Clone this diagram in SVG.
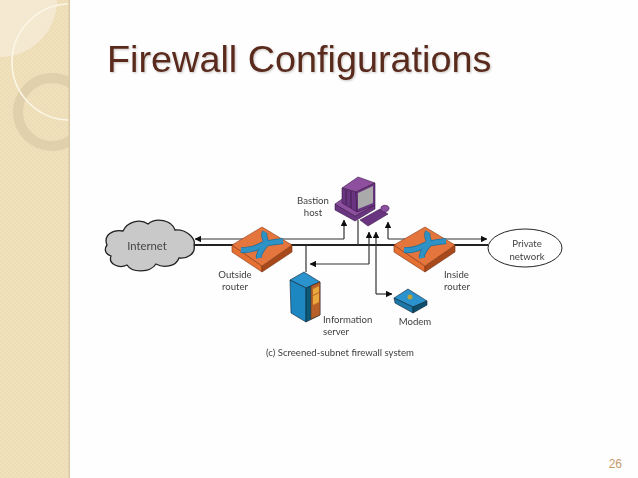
<svg xmlns="http://www.w3.org/2000/svg" width="638" height="478" viewBox="0 0 638 478">
<style>
.lb{font-family:"Lato","Open Sans","Liberation Sans",sans-serif;font-size:9.6px;fill:#3e3e3e;text-anchor:middle}
.st{text-anchor:start}
.ln{fill:none;stroke:#333;stroke-width:1.2}
.ah{fill:#111}
.rt{fill:#e4743c;stroke:#8a3a16;stroke-width:.6}
.rl{fill:#e56f30;stroke:#7a3212;stroke-width:.6}
.rr{fill:#a8481c;stroke:#7a3212;stroke-width:.6}
.xo{fill:none;stroke:#1d6f9c;stroke-width:6}
.x{fill:none;stroke:#2f93c4;stroke-width:4.6}
.p1{fill:#8e4f9e;stroke:#3a1a48;stroke-width:.6}
.p2{fill:#6b3480;stroke:#3a1a48;stroke-width:.6}
.e{stroke:#123;stroke-width:.6}
</style>
<defs>
<pattern id="dots" width="4" height="4" patternUnits="userSpaceOnUse">
<rect width="4" height="4" fill="#f0e0bc"/>
<circle cx="1" cy="1" r=".7" fill="#ead8ae"/>
<circle cx="3" cy="3" r=".7" fill="#ead8ae"/>
</pattern>
<clipPath id="side"><rect width="70" height="478"/></clipPath>
<filter id="soft" x="-5%" y="-5%" width="110%" height="110%"><feGaussianBlur stdDeviation=".35"/></filter>
<filter id="shadow" x="-5%" y="-20%" width="110%" height="150%"><feDropShadow dx="1" dy="1" stdDeviation="1" flood-color="#7a6a60" flood-opacity=".4"/></filter>
<marker id="arr" viewBox="0 0 8 8" refX="7.5" refY="4" markerWidth="6.5" markerHeight="6.5" markerUnits="userSpaceOnUse" orient="auto"><path class="ah" d="M0 0L8 4L0 8Z"/></marker>
<g id="xmark">
<path class="xo" d="M-21 5C-10 6 -4 2 0 0S12 -3 21 -4"/>
<path class="xo" d="M3 -13C0 -8 6 -4 3 0S-4 8 -3 13"/>
<path class="x" d="M-21 5C-10 6 -4 2 0 0S12 -3 21 -4"/>
<path class="x" d="M3 -13C0 -8 6 -4 3 0S-4 8 -3 13"/>
</g>
</defs>
<rect width="638" height="478" fill="#fefefe"/>
<g id="sidebar" clip-path="url(#side)">
<rect width="70" height="478" fill="url(#dots)"/>
<path d="M0 0H57A57 57 0 0 1 0 57Z" fill="#f5ebd6" opacity=".8"/>
<circle cx="52" cy="112" r="34" fill="none" stroke="#e0d1ac" stroke-width="10"/>
<circle cx="70" cy="62" r="58" fill="none" stroke="#fbf6e6" stroke-width="1.6"/>
<rect x="68.500" width="1.500" height="478" fill="#d8c8a6"/>
</g>
<text id="title" x="107" y="72" font-family="'Liberation Sans',Arial,sans-serif" font-size="37.8" fill="#5a2a1c" filter="url(#shadow)">Firewall Configurations</text>
<text id="page" x="622" y="468" font-family="'Liberation Sans',Arial,sans-serif" font-size="12" fill="#c49a6c" text-anchor="end">26</text>
<g filter="url(#soft)">
<g id="connectors">
<path class="ln" marker-end="url(#arr)" d="M344 239H195"/>
<path class="ln" marker-end="url(#arr)" d="M344 239V220"/>
<path d="M194 245H488" fill="none" stroke="#222" stroke-width="1.8"/>
<path class="ln" d="M358 245V220"/>
<path class="ln" d="M306 245V272"/>
<path class="ln" marker-end="url(#arr)" d="M369 264H310"/>
<path class="ln" marker-end="url(#arr)" d="M369 264V232"/>
<path class="ln" marker-end="url(#arr)" d="M376 294V232"/>
<path class="ln" marker-end="url(#arr)" d="M376 294H392"/>
<path class="ln" marker-end="url(#arr)" d="M388 239H487"/>
<path class="ln" marker-end="url(#arr)" d="M388 239V222"/>
</g>
<g id="internet">
<path d="M107 245C103 235 113 229 123 231C127 222 140 218 148 224C156 217 172 220 175 230C186 229 196 238 194 245C196 254 187 259 179 258C176 267 163 268 156 264C150 273 132 273 127 265C119 269 108 264 111 256C105 254 104 249 107 245Z" fill="#c9c9c9" stroke="#222" stroke-width="1.3"/>
<text x="147" y="250" font-family="Lato,'Open Sans','Liberation Sans',sans-serif" font-size="11.300" fill="#444" text-anchor="middle">Internet</text>
</g>
<g id="outside-router">
<path class="rl" d="M232 245L262 266V272L232 252Z"/>
<path class="rr" d="M292 245L262 266V272L292 252Z"/>
<path class="rt" d="M262 227L292 245L262 266L232 245Z"/>
<use href="#xmark" x="262" y="245"/>
<text class="lb" x="235" y="278">Outside</text>
<text class="lb" x="235" y="290">router</text>
</g>
<g id="inside-router">
<path class="rl" d="M394 245L425 266V272L394 252Z"/>
<path class="rr" d="M455 245L425 266V272L455 252Z"/>
<path class="rt" d="M425 227L455 245L425 266L394 245Z"/>
<use href="#xmark" x="425" y="245"/>
<text class="lb st" x="444" y="278">Inside</text>
<text class="lb st" x="444" y="290">router</text>
</g>
<g id="private-network">
<ellipse cx="525" cy="248" rx="37" ry="19" fill="#fff" stroke="#222" stroke-width="1"/>
<text class="lb" x="527" y="247">Private</text>
<text class="lb" x="527" y="260">network</text>
</g>
<g id="bastion-host">
<path class="p2" d="M335 204L355 216L375 205V209L355 221L335 210Z"/>
<path class="p1" d="M335 204L345 197L375 205L355 216Z"/>
<path class="p1" d="M342 188L358 177L375 183L356 192Z"/>
<path class="p2" d="M342 188L356 192L357 212L342 203Z"/>
<path d="M346 190V205M351 191V208" stroke="#3a1a48" stroke-width=".8" fill="none"/>
<path d="M356 192L375 183V205L357 212Z" fill="#6b3480" stroke="#3a1a48" stroke-width=".6"/>
<path d="M358 193L373 186V203L358 209Z" fill="#aaa"/>
<path class="p2" d="M360 220L380 209L388 214L368 226Z"/>
<path class="p1" d="M381 207C383 204 390 205 389 209C388 212 384 213 381 211Z"/>
<text class="lb" x="313" y="204">Bastion</text>
<text class="lb" x="313" y="216">host</text>
</g>
<g id="information-server">
<path class="e" d="M290 280L304 272L320 282L306 288Z" fill="#2a93cd"/>
<path class="e" d="M290 280L306 288V322L291 313Z" fill="#1b87c0"/>
<path class="e" d="M306 288L320 282V315L306 322Z" fill="#0f5a78"/>
<path d="M311 286L320 282V315L311 319Z" fill="#b8602a" stroke="#5a2a10" stroke-width=".5"/>
<path d="M313 289L319 286V292L313 295ZM313 296L319 293V302L313 305Z" fill="#e8a83a"/>
<text class="lb st" x="323" y="323">Information</text>
<text class="lb st" x="323" y="335">server</text>
</g>
<g id="modem">
<path class="e" d="M394 298L408 289L427 301L413 307Z" fill="#2a93cd"/>
<path class="e" d="M394 298L413 307V313L395 303Z" fill="#1b78a8"/>
<path class="e" d="M413 307L427 301V305L413 313Z" fill="#0f4f6c"/>
<circle cx="410" cy="297" r="2.5" fill="#b9a23a"/>
<text class="lb" x="415" y="325">Modem</text>
</g>
<text id="caption" class="lb" x="340" y="356">(c) Screened-subnet firewall system</text>
</g>
</svg>
